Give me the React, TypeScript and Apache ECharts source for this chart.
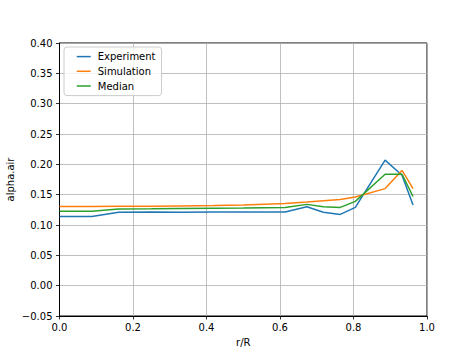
import React, { useEffect, useRef } from "react";
import * as echarts from "echarts";

const rOverR = [0, 0.088, 0.161, 0.25, 0.33, 0.42, 0.5, 0.614, 0.673, 0.718, 0.764, 0.805, 0.886, 0.932, 0.962];
const experiment = [0.114, 0.114, 0.121, 0.1215, 0.121, 0.1215, 0.1215, 0.1215, 0.130, 0.121, 0.1175, 0.129, 0.207, 0.182, 0.133];
const simulation = [0.1305, 0.1305, 0.1308, 0.131, 0.1315, 0.132, 0.133, 0.1355, 0.138, 0.140, 0.142, 0.146, 0.160, 0.190, 0.160];
const median = [0.1225, 0.1225, 0.1264, 0.1266, 0.127, 0.1275, 0.128, 0.129, 0.134, 0.130, 0.129, 0.139, 0.1836, 0.1836, 0.147];
const seriesNames = ["Experiment", "Simulation", "Median"];
const colors = ["#1f77b4", "#ff7f0e", "#2ca02c"];

const FONT = "DejaVu Sans";

export default function App() {
  const ref = useRef<HTMLDivElement>(null);
  useEffect(() => {
    document.body.style.margin = "0";
    const chart = echarts.init(ref.current!, null, { renderer: "svg" });
    const values = [experiment, simulation, median];
    chart.setOption({
      animation: false,
      backgroundColor: "#ffffff",
      textStyle: { fontFamily: FONT },
      grid: {
        left: 59.5,
        right: 47,
        top: 43,
        bottom: 39,
        containLabel: false,
        outerBoundsMode: "none",
        show: true,
        borderColor: "#000",
        borderWidth: 1,
        backgroundColor: "transparent",
      },
      legend: {
        left: 64,
        top: 47,
        orient: "vertical",
        data: seriesNames,
        itemWidth: 14,
        itemHeight: 14,
        itemGap: 3.5,
        padding: [4, 6, 4, 12],
        backgroundColor: "rgba(255,255,255,0.8)",
        borderColor: "#cccccc",
        borderWidth: 1,
        borderRadius: 3,
        textStyle: { fontFamily: FONT, fontSize: 10, color: "#000", padding: [0, 0, 0, 2] },
        itemStyle: { opacity: 0 },
        lineStyle: { width: 1.5 },
      },
      xAxis: {
        type: "value",
        min: 0,
        max: 1,
        interval: 0.2,
        name: "r/R",
        nameLocation: "middle",
        nameGap: 21,
        nameMoveOverlap: false,
        nameTextStyle: { fontFamily: FONT, fontSize: 10, color: "#000" },
        axisLine: { show: true, onZero: false, lineStyle: { color: "#000", width: 1 } },
        axisTick: { show: true, inside: false, length: 3.5, lineStyle: { color: "#000", width: 0.8 } },
        axisLabel: {
          margin: 6,
          fontFamily: FONT,
          fontSize: 10,
          color: "#000",
          formatter: (v: number) => v.toFixed(1),
        },
        splitLine: { show: true, lineStyle: { color: "#b0b0b0", width: 0.8 } },
      },
      yAxis: {
        type: "value",
        min: -0.05,
        max: 0.4,
        interval: 0.05,
        name: "alpha.air",
        nameLocation: "middle",
        nameGap: 44,
        nameMoveOverlap: false,
        nameTextStyle: { fontFamily: FONT, fontSize: 10, color: "#000" },
        axisLine: { show: true, onZero: false, lineStyle: { color: "#000", width: 1 } },
        axisTick: { show: true, inside: false, length: 3.5, lineStyle: { color: "#000", width: 0.8 } },
        axisLabel: {
          margin: 7,
          fontFamily: FONT,
          fontSize: 10,
          color: "#000",
          formatter: (v: number) => v.toFixed(2).replace("-", "\u2212"),
        },
        splitLine: { show: true, lineStyle: { color: "#b0b0b0", width: 0.8 } },
      },
      series: seriesNames.map((name, i) => ({
        name,
        type: "line",
        symbol: "none",
        showSymbol: false,
        color: colors[i],
        lineStyle: { color: colors[i], width: 1.5 },
        data: rOverR.map((r, j) => [r, values[i][j]]),
        z: 3 + i,
      })),
    });
    return () => chart.dispose();
  }, []);
  return <div ref={ref} style={{ width: 474, height: 355 }} />;
}
